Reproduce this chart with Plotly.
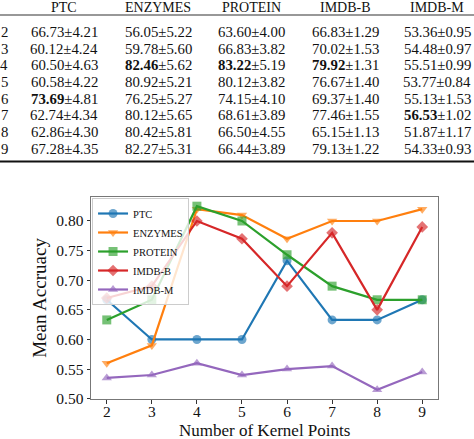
import plotly.graph_objects as go

# ---------------- data ----------------
kernel_points = [2, 3, 4, 5, 6, 7, 8, 9]

# chart series (mean accuracy)
ptc = [0.667, 0.600, 0.600, 0.600, 0.733, 0.633, 0.633, 0.667]
enzymes = [0.560, 0.590, 0.820, 0.810, 0.770, 0.800, 0.800, 0.820]
protein = [0.633, 0.667, 0.825, 0.800, 0.743, 0.690, 0.667, 0.667]
imdb_b = [0.670, 0.690, 0.800, 0.770, 0.690, 0.780, 0.650, 0.790]
imdb_m = [0.535, 0.540, 0.560, 0.540, 0.550, 0.555, 0.515, 0.545]

# table (mean, std in %)
table_headers = ["PTC", "ENZYMES", "PROTEIN", "IMDB-B", "IMDB-M"]
ptc_mu = [66.73, 60.12, 60.50, 60.58, 73.69, 62.74, 62.86, 67.28]
ptc_sd = [4.21, 4.24, 4.63, 4.22, 4.81, 4.34, 4.30, 4.35]
enz_mu = [56.05, 59.78, 82.46, 80.92, 76.25, 80.12, 80.42, 82.27]
enz_sd = [5.22, 5.60, 5.62, 5.21, 5.27, 5.65, 5.81, 5.31]
pro_mu = [63.60, 66.83, 83.22, 80.12, 74.15, 68.61, 66.50, 66.44]
pro_sd = [4.00, 3.82, 5.19, 3.82, 4.10, 3.89, 4.55, 3.89]
imb_mu = [66.83, 70.02, 79.92, 76.67, 69.37, 77.46, 65.15, 79.13]
imb_sd = [1.29, 1.53, 1.31, 1.40, 1.40, 1.55, 1.13, 1.22]
imm_mu = [53.36, 54.48, 55.51, 53.77, 55.13, 56.53, 51.87, 54.33]
imm_sd = [0.95, 0.97, 0.99, 0.84, 1.53, 1.02, 1.17, 0.93]

series_names = ["PTC", "ENZYMES", "PROTEIN", "IMDB-B", "IMDB-M"]
series_vals = [ptc, enzymes, protein, imdb_b, imdb_m]
x_title = "Number of Kernel Points"
y_title = "Mean Accruacy"

# ---------------- style ----------------
colors = ["#1f77b4", "#ff7f0e", "#2ca02c", "#d62728", "#9467bd"]
symbols = ["circle", "triangle-down", "square", "diamond", "triangle-up"]
SERIF = "Liberation Serif, Times New Roman, serif"
TFS = 14.8  # table font size
TICK_FS = 15.5

W, H = 474, 439
L, R, T, B = 91, 36, 197, 40
PW, PH = W - L - R, H - T - B


def px_x(x):
    return (x - L) / PW


def px_y(y):
    return (H - B - y) / PH


fig = go.Figure()
for name, vals, c, s in zip(series_names, series_vals, colors, symbols):
    fig.add_trace(go.Scatter(
        x=kernel_points, y=vals, name=name, mode="lines+markers",
        line=dict(color=c, width=2.2),
        marker=dict(symbol=s, size=9, color=c, opacity=0.65,
                    line=dict(width=0)),
    ))

# ---------------- table as text ----------------
annotations = []
shapes = []
col_x = [64, 158, 251.5, 345, 437]
row_y0, row_dy = 32.0, 16.66


def txt(x, y, s, size=TFS):
    return dict(x=px_x(x), y=px_y(y), xref="paper", yref="paper",
                text=s, showarrow=False, xanchor="center", yanchor="middle",
                borderpad=0, font=dict(family=SERIF, size=size, color="#111"))


for hx, h in zip(col_x, table_headers):
    annotations.append(txt(hx, 7.9, h, size=14))
cols = [(ptc_mu, ptc_sd), (enz_mu, enz_sd), (pro_mu, pro_sd), (imb_mu, imb_sd), (imm_mu, imm_sd)]
for i, k in enumerate(kernel_points):
    y = row_y0 + i * row_dy
    annotations.append(txt(4.2, y, str(k)))
    for (mu, sd), cx in zip(cols, col_x):
        best = mu.index(max(mu))
        m = f"{mu[i]:.2f}"
        if i == best:
            m = f"<b>{m}</b>"
        annotations.append(txt(cx, y, f"{m}±{sd[i]:.2f}"))

# x-axis title placed explicitly below the tick labels
annotations.append(dict(x=0.5, y=px_y(430.3), xref="paper", yref="paper",
                        text=x_title, showarrow=False, xanchor="center", yanchor="middle",
                        borderpad=0, font=dict(family=SERIF, size=17, color="#111")))

shapes.append(dict(type="line", xref="paper", yref="paper",
                   x0=px_x(0), x1=px_x(W), y0=px_y(15), y1=px_y(15),
                   line=dict(color="#333", width=1.2)))
shapes.append(dict(type="line", xref="paper", yref="paper",
                   x0=px_x(0), x1=px_x(W), y0=px_y(161.5), y1=px_y(161.5),
                   line=dict(color="#111", width=2)))

fig.update_layout(
    width=W, height=H, autosize=False,
    margin=dict(l=L, r=R, t=T, b=B, pad=0, autoexpand=False),
    paper_bgcolor="white", plot_bgcolor="white",
    font=dict(family=SERIF, color="#111"),
    annotations=annotations, shapes=shapes,
    legend=dict(x=0.003, y=0.995, xanchor="left", yanchor="top",
                bgcolor="rgba(255,255,255,0.8)", bordercolor="#cccccc", borderwidth=1,
                font=dict(family=SERIF, size=10.5, color="#111"),
                itemwidth=30, tracegroupgap=0),
    xaxis=dict(range=[1.65, 9.35], tickvals=kernel_points, ticks="outside", ticklen=3.5,
               ticklabelstandoff=-5,
               tickcolor="#333", showgrid=False, zeroline=False, automargin=False,
               showline=True, mirror=True, linecolor="#777", linewidth=1,
               tickfont=dict(family=SERIF, size=TICK_FS, color="#111")),
    yaxis=dict(range=[0.4995, 0.8405], dtick=0.05, tick0=0.5, tickformat=".2f",
               ticks="outside", ticklen=3.5, tickcolor="#333", automargin=False,
               showgrid=False, zeroline=False,
               showline=True, mirror=True, linecolor="#777", linewidth=1,
               tickfont=dict(family=SERIF, size=TICK_FS, color="#111"),
               title=dict(text=y_title, standoff=4,
                          font=dict(family=SERIF, size=19, color="#111"))),
)

fig.write_html("out.html")
